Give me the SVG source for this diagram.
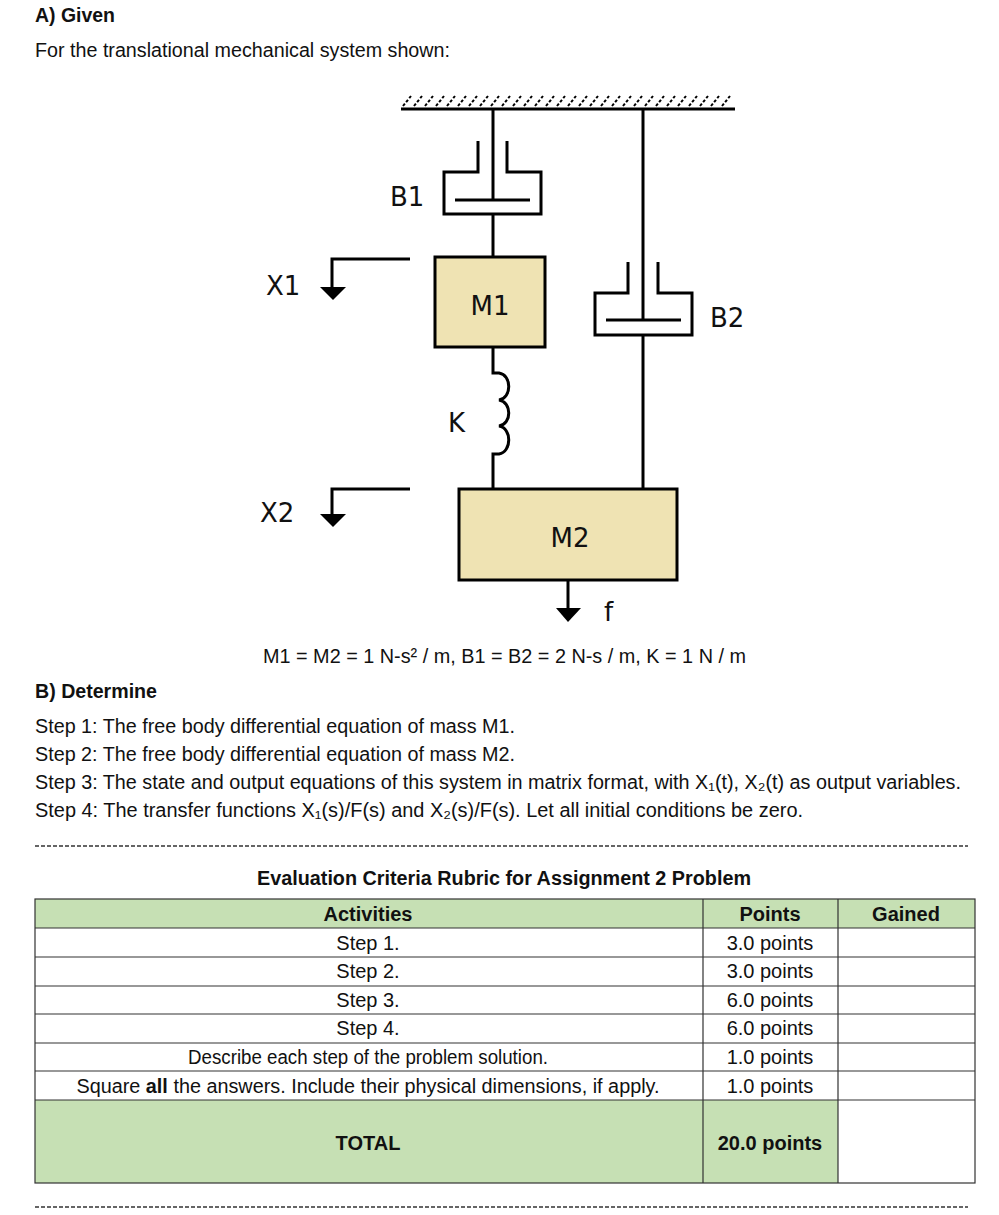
<svg xmlns="http://www.w3.org/2000/svg" width="999" height="1215" viewBox="0 0 999 1215">
<style>
.t{font-family:"Liberation Sans",Arial,sans-serif;font-size:20px;fill:#111}
.b{font-weight:bold}
.d{font-family:"DejaVu Sans",sans-serif;font-size:26px;fill:#111}
.ln{stroke:#000;stroke-width:3;fill:none}
.box{fill:#efe3b3;stroke:#000;stroke-width:3}
.g{fill:#c6e0b4}
.tb{stroke:#333;stroke-width:1.2;fill:none}
.dash{stroke:#333;stroke-width:1.5;stroke-dasharray:4 2}
</style>
<rect width="999" height="1215" fill="#fff"/>
<text class="t b" x="35" y="22" textLength="80" lengthAdjust="spacingAndGlyphs">A) Given</text>
<text class="t" x="35" y="57" textLength="415" lengthAdjust="spacingAndGlyphs">For the translational mechanical system shown:</text>
<g id="ground">
<line class="ln" x1="401" y1="109" x2="735" y2="109"/>
<path d="M403,106 l8,-10 M414,106 l8,-10 M425,106 l8,-10 M436,106 l8,-10 M447,106 l8,-10 M458,106 l8,-10 M469,106 l8,-10 M480,106 l8,-10 M491,106 l8,-10 M502,106 l8,-10 M513,106 l8,-10 M524,106 l8,-10 M535,106 l8,-10 M546,106 l8,-10 M557,106 l8,-10 M568,106 l8,-10 M579,106 l8,-10 M590,106 l8,-10 M601,106 l8,-10 M612,106 l8,-10 M623,106 l8,-10 M634,106 l8,-10 M645,106 l8,-10 M656,106 l8,-10 M667,106 l8,-10 M678,106 l8,-10 M689,106 l8,-10 M700,106 l8,-10 M711,106 l8,-10 M722,106 l8,-10" stroke="#000" stroke-width="2" stroke-dasharray="3 2"/>
</g>
<g id="connectors">
<line class="ln" x1="493" y1="109" x2="493" y2="200"/>
<line class="ln" x1="493" y1="214" x2="493" y2="257"/>
<line class="ln" x1="643" y1="109" x2="643" y2="320"/>
<line class="ln" x1="643" y1="335" x2="643" y2="489"/>
<path class="ln" d="M493,347 V373 H499 C512,375 512,398 499,400 C512,402 512,424 499,426 C512,428 512,452 499,454 H493 V489"/>
<line class="ln" x1="568" y1="580" x2="568" y2="608"/>
<polygon points="556,608 581,608 568,622"/>
<path class="ln" d="M410,259 H332 V288"/>
<polygon points="320,287 346,287 333,300"/>
<path class="ln" d="M410,489 H332 V515"/>
<polygon points="320,514 346,514 333,527"/>
</g>
<g id="B1">
<path class="ln" d="M478,141 V172 H444 V214 H541 V172 H507 V141"/>
<line class="ln" x1="455" y1="200" x2="530" y2="200"/>
<text class="d" x="390" y="206">B1</text>
</g>
<g id="B2">
<path class="ln" d="M628,262 V293 H595 V335 H692 V293 H658 V262"/>
<line class="ln" x1="606" y1="320" x2="681" y2="320"/>
<text class="d" x="710" y="327">B2</text>
</g>
<g id="M1"><rect class="box" x="435" y="257" width="110" height="90"/><text class="d" x="490" y="315" text-anchor="middle">M1</text></g>
<g id="M2"><rect class="box" x="459" y="489" width="218" height="91"/><text class="d" x="570" y="547" text-anchor="middle">M2</text></g>
<g id="K"><text class="d" x="448" y="432">K</text></g>
<g id="X1"><text class="d" x="266" y="295">X1</text></g>
<g id="X2"><text class="d" x="260" y="522">X2</text></g>
<g id="f"><text class="d" x="604" y="621">f</text></g>
<text class="t" x="263" y="663" textLength="483" lengthAdjust="spacingAndGlyphs">M1 = M2 = 1 N-s² / m, B1 = B2 = 2 N-s / m, K = 1 N / m</text>
<text class="t b" x="35" y="698" textLength="122" lengthAdjust="spacingAndGlyphs">B) Determine</text>
<text class="t" x="35" y="733" textLength="480" lengthAdjust="spacingAndGlyphs">Step 1: The free body differential equation of mass M1.</text>
<text class="t" x="35" y="761" textLength="480" lengthAdjust="spacingAndGlyphs">Step 2: The free body differential equation of mass M2.</text>
<text class="t" x="35" y="789" textLength="926" lengthAdjust="spacingAndGlyphs">Step 3: The state and output equations of this system in matrix format, with X₁(t), X₂(t) as output variables.</text>
<text class="t" x="35" y="817" textLength="768" lengthAdjust="spacingAndGlyphs">Step 4: The transfer functions X₁(s)/F(s) and X₂(s)/F(s).  Let all initial conditions be zero.</text>
<line class="dash" x1="35" y1="846" x2="968" y2="846"/>
<text class="t b" x="504" y="885" text-anchor="middle" textLength="494" lengthAdjust="spacingAndGlyphs">Evaluation Criteria Rubric for Assignment 2 Problem</text>
<g id="table">
<rect class="g" x="35" y="899" width="940" height="29"/>
<rect class="g" x="35" y="1100" width="803" height="83"/>
<rect class="tb" x="35" y="899" width="940" height="284"/>
<path class="tb" d="M35,928 H975 M35,957 H975 M35,986 H975 M35,1014 H975 M35,1043 H975 M35,1071 H975 M35,1100 H975 M703,899 V1183 M838,899 V1183"/>
<text class="t b" x="368" y="921" text-anchor="middle">Activities</text>
<text class="t b" x="770" y="921" text-anchor="middle">Points</text>
<text class="t b" x="906" y="921" text-anchor="middle">Gained</text>
<g class="t" text-anchor="middle">
<text x="368" y="950">Step 1.</text><text x="770" y="950">3.0 points</text>
<text x="368" y="978">Step 2.</text><text x="770" y="978">3.0 points</text>
<text x="368" y="1007">Step 3.</text><text x="770" y="1007">6.0 points</text>
<text x="368" y="1035">Step 4.</text><text x="770" y="1035">6.0 points</text>
<text x="368" y="1064" textLength="360" lengthAdjust="spacingAndGlyphs">Describe each step of the problem solution.</text><text x="770" y="1064">1.0 points</text>
<text x="368" y="1093" textLength="583" lengthAdjust="spacingAndGlyphs">Square <tspan font-weight="bold">all</tspan> the answers. Include their physical dimensions, if apply.</text><text x="770" y="1093">1.0 points</text>
<text x="368" y="1150" font-weight="bold">TOTAL</text><text x="770" y="1150" font-weight="bold">20.0 points</text>
</g>
</g>
<line class="dash" x1="35" y1="1207" x2="968" y2="1207"/>
</svg>
